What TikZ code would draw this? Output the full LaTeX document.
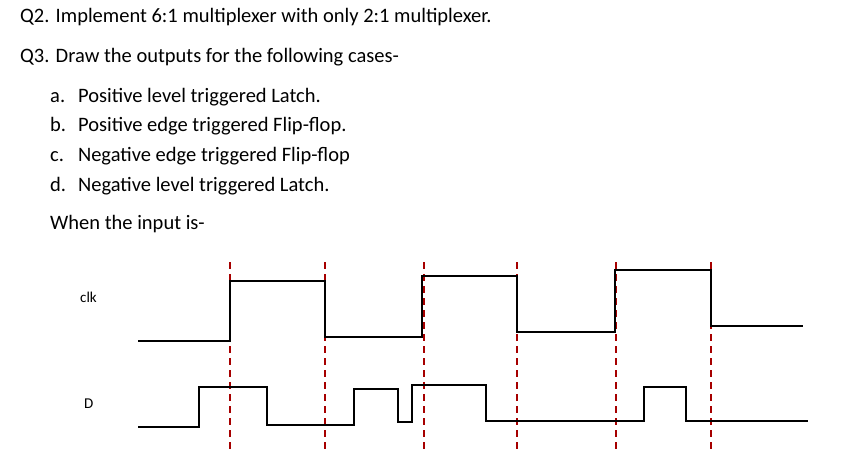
\documentclass[tikz,border=0pt]{standalone}
\usepackage{fontspec}
\setmainfont{Carlito}
\begin{document}
\begin{tikzpicture}[x=1pt,y=-1pt,
  txt/.style={anchor=base west,inner sep=0pt,font=\fontsize{20.5}{23}\selectfont},
  lbl/.style={anchor=base west,inner sep=0pt,font=\fontsize{15}{17}\selectfont},
  wave/.style={line width=2.2pt,black},
  redline/.style={red!65!black,line width=1.8pt,dash pattern=on 7pt off 5pt}]
\useasboundingbox (0,0) rectangle (847,456);
\node[txt] (q2) at (20,22) {Q2. Implement 6:1 multiplexer with only 2:1 multiplexer.};
\node[txt] (q3) at (20,62) {Q3. Draw the outputs for the following cases-};
\node[txt] (a) at (50,102) {a.\hspace{13pt}Positive level triggered Latch.};
\node[txt] (b) at (50,131) {b.\hspace{12pt}Positive edge triggered Flip-flop.};
\node[txt] (c) at (50,161) {c.\hspace{14pt}Negative edge triggered Flip-flop};
\node[txt] (d) at (50,191) {d.\hspace{12pt}Negative level triggered Latch.};
\node[txt] (w) at (50,229) {When the input is-};
\node[lbl] (clk) at (80,302) {clk};
\node[lbl] (dl) at (84,408) {D};
\foreach \x in {230,325,424,517,616,711}
  \draw[redline] (\x,262) -- (\x,452);
\draw[wave] (138,341) -- (230,341) -- (230,281) -- (325,281) -- (325,337) -- (422,337)
  -- (422,276) -- (517,276) -- (517,332) -- (615,332) -- (615,270) -- (711,270)
  -- (711,326) -- (803,326);
\draw[wave] (138,427) -- (199,427) -- (199,387) -- (267,387) -- (267,425) -- (354,425)
  -- (354,389) -- (398,389) -- (398,422) -- (412,422) -- (412,385) -- (486,385)
  -- (486,421) -- (644,421) -- (644,387) -- (686,387) -- (686,421) -- (808,421);
\end{tikzpicture}
\end{document}
